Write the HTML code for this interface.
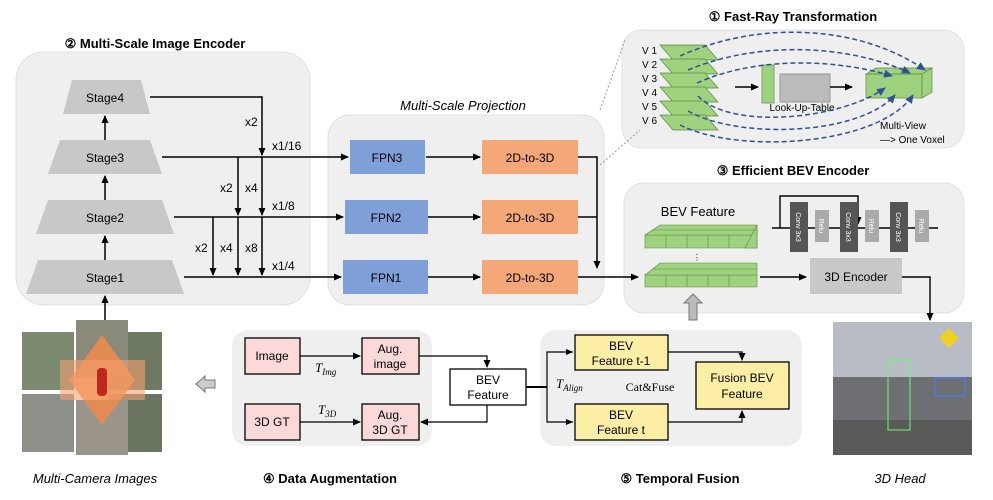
<!DOCTYPE html>
<html><head><meta charset="utf-8"><style>
body{margin:0;background:#fff;}
svg{display:block;font-family:"Liberation Sans",sans-serif;}
.b{font-weight:bold;}
</style></head><body>
<svg width="993" height="500" viewBox="0 0 993 500" xmlns="http://www.w3.org/2000/svg">
<defs>
<marker id="a" markerWidth="8" markerHeight="8" refX="7" refY="4" orient="auto" markerUnits="userSpaceOnUse"><path d="M0,0.5 L8,4 L0,7.5z" fill="#000"/></marker>
<marker id="d" markerWidth="10" markerHeight="10" refX="8" refY="5" orient="auto" markerUnits="userSpaceOnUse"><path d="M0,1 L9,5 L0,9z" fill="#2f4f9a"/></marker>
</defs>
<rect x="16" y="52" width="294" height="253" rx="28" fill="#efefef" stroke="#e0e0e0"/>
<rect x="328" y="115" width="276" height="190" rx="22" fill="#efefef" stroke="#e0e0e0"/>
<rect x="622" y="30" width="342" height="118" rx="20" fill="#efefef" stroke="#e0e0e0"/>
<rect x="624" y="183" width="340" height="130" rx="20" fill="#efefef" stroke="#e0e0e0"/>
<rect x="232" y="330" width="200" height="116" rx="16" fill="#efefef"/>
<rect x="540" y="330" width="262" height="116" rx="16" fill="#efefef"/>

<text x="155" y="48" text-anchor="middle" font-size="13" class="b">② Multi-Scale Image Encoder</text>
<text x="463" y="110" text-anchor="middle" font-size="13" font-style="italic">Multi-Scale Projection</text>
<text x="793" y="21" text-anchor="middle" font-size="13" class="b">① Fast-Ray Transformation</text>
<text x="793" y="175" text-anchor="middle" font-size="13" class="b">③ Efficient BEV  Encoder</text>
<text x="95" y="483" text-anchor="middle" font-size="13" font-style="italic">Multi-Camera Images</text>
<text x="330" y="483" text-anchor="middle" font-size="13" class="b">④ Data Augmentation</text>
<text x="680" y="483" text-anchor="middle" font-size="13" class="b">⑤ Temporal Fusion</text>
<text x="900" y="483" text-anchor="middle" font-size="13" font-style="italic">3D Head</text>

<g fill="#c8c8c8" font-size="12" text-anchor="middle">
<polygon points="72,80 141,80 150,114 63,114"/>
<polygon points="60,140 150,140 162,174 48,174"/>
<polygon points="48,200 162,200 174,234 36,234"/>
<polygon points="38,260 172,260 184,294 26,294"/>
<text x="105" y="102" fill="#000">Stage4</text>
<text x="105" y="162" fill="#000">Stage3</text>
<text x="105" y="222" fill="#000">Stage2</text>
<text x="105" y="282" fill="#000">Stage1</text>
</g>
<g stroke="#000" stroke-width="1.5" fill="none">
<line x1="105" y1="140" x2="105" y2="116" marker-end="url(#a)"/>
<line x1="105" y1="200" x2="105" y2="176" marker-end="url(#a)"/>
<line x1="105" y1="260" x2="105" y2="236" marker-end="url(#a)"/>
<line x1="105" y1="320" x2="105" y2="296" marker-end="url(#a)"/>
<polyline points="150,97 262,97 262,155" marker-end="url(#a)"/>
<line x1="262" y1="157" x2="262" y2="215" marker-end="url(#a)"/>
<line x1="262" y1="217" x2="262" y2="275" marker-end="url(#a)"/>
<line x1="238" y1="157" x2="238" y2="215" marker-end="url(#a)"/>
<line x1="238" y1="217" x2="238" y2="275" marker-end="url(#a)"/>
<line x1="213" y1="217" x2="213" y2="275" marker-end="url(#a)"/>
<line x1="162" y1="157" x2="348" y2="157" marker-end="url(#a)"/>
<line x1="174" y1="217" x2="343" y2="217" marker-end="url(#a)"/>
<line x1="184" y1="277" x2="341" y2="277" marker-end="url(#a)"/>
<line x1="426" y1="157" x2="480" y2="157" marker-end="url(#a)"/>
<line x1="428" y1="217" x2="480" y2="217" marker-end="url(#a)"/>
<line x1="428" y1="277" x2="480" y2="277" marker-end="url(#a)"/>
<polyline points="578,157 597,157 597,268" marker-end="url(#a)"/>
<line x1="578" y1="217" x2="597" y2="217"/>
<line x1="578" y1="277" x2="638" y2="277" marker-end="url(#a)"/>
</g>
<g font-size="12">
<text x="245" y="126">x2</text><text x="272" y="150">x1/16</text>
<text x="220" y="192">x2</text><text x="245" y="192">x4</text><text x="272" y="210">x1/8</text>
<text x="195" y="252">x2</text><text x="220" y="252">x4</text><text x="245" y="252">x8</text><text x="272" y="270">x1/4</text>
</g>
<g font-size="12" text-anchor="middle">
<rect x="350" y="140" width="75" height="34" fill="#7f9fd9"/><text x="387" y="162">FPN3</text>
<rect x="345" y="200" width="83" height="34" fill="#7f9fd9"/><text x="386" y="222">FPN2</text>
<rect x="343" y="260" width="85" height="34" fill="#7f9fd9"/><text x="386" y="282">FPN1</text>
<rect x="482" y="140" width="96" height="34" fill="#f4a878"/><text x="530" y="162">2D-to-3D</text>
<rect x="482" y="200" width="96" height="34" fill="#f4a878"/><text x="530" y="222">2D-to-3D</text>
<rect x="482" y="260" width="96" height="34" fill="#f4a878"/><text x="530" y="282">2D-to-3D</text>
</g>
<line x1="600" y1="165" x2="640" y2="130" stroke="#999" stroke-dasharray="2,2"/>
<line x1="600" y1="110" x2="625" y2="40" stroke="#999" stroke-dasharray="2,2"/>

<g font-size="10">
<text x="642" y="54">V 1</text><text x="642" y="68">V 2</text><text x="642" y="82">V 3</text>
<text x="642" y="96">V 4</text><text x="642" y="110">V 5</text><text x="642" y="124">V 6</text>
</g>
<g fill="#9fd27f" stroke="#5a8a3a" stroke-width="0.7">
<polygon points="660,45 705,45 718,60 673,60"/>
<polygon points="660,59 705,59 718,74 673,74"/>
<polygon points="660,73 705,73 718,88 673,88"/>
<polygon points="660,87 705,87 718,102 673,102"/>
<polygon points="660,101 705,101 718,116 673,116"/>
<polygon points="660,115 705,115 718,130 673,130"/>
<rect x="762" y="65" width="12" height="38"/>
<rect x="866" y="74" width="56" height="24"/>
<polygon points="866,74 876,68 932,68 922,74"/>
<polygon points="922,74 932,68 932,92 922,98"/>
</g>
<rect x="780" y="74" width="50" height="28" fill="#bbb" stroke="#999"/>
<line x1="735" y1="87" x2="758" y2="87" stroke="#000" stroke-width="1.5" marker-end="url(#a)"/>
<line x1="830" y1="87" x2="852" y2="87" stroke="#000" stroke-width="1.5" marker-end="url(#a)"/>
<text x="802" y="111" text-anchor="middle" font-size="10">Look-Up-Table</text>
<text x="880" y="129" font-size="10">Multi-View</text>
<text x="880" y="143" font-size="10">—&gt;  One Voxel</text>
<g stroke="#2f4f9a" stroke-width="1.5" stroke-dasharray="5,3" fill="none">
<path d="M680,56 C760,20 860,25 925,70" marker-end="url(#d)"/>
<path d="M688,70 C760,40 850,45 910,73" marker-end="url(#d)"/>
<path d="M697,83 C760,55 840,60 892,76" marker-end="url(#d)"/>
<path d="M698,96 C730,130 840,120 885,88" marker-end="url(#d)"/>
<path d="M688,111 C740,140 860,135 895,95" marker-end="url(#d)"/>
<path d="M680,125 C740,155 880,145 913,95" marker-end="url(#d)"/>
</g>
<text x="698" y="216" text-anchor="middle" font-size="13">BEV Feature</text>
<g fill="#9fd27f" stroke="#5a8a3a" stroke-width="0.6">
<polygon points="645,235 757,235 757,248 645,248"/><polygon points="645,235 660,225 757,225 757,235"/><polygon points="757,225 757,248 745,248"/>
<polygon points="645,275 757,275 757,287 645,287"/><polygon points="645,275 660,263 757,263 757,275"/>
<path d="M666,235V248M687,235V248M708,235V248M729,235V248M666,275V287M687,275V287M708,275V287M729,275V287M652,230H757M652,269H757" fill="none"/>
</g>
<text x="693" y="260" font-size="8">⋮</text>
<rect x="810" y="258" width="92" height="36" fill="#c8c8c8"/>
<text x="856" y="281" text-anchor="middle" font-size="12">3D Encoder</text>
<g stroke="#000" stroke-width="1.4" fill="none">
<line x1="760" y1="277" x2="806" y2="277" marker-end="url(#a)"/>
<polyline points="902,277 930,277 930,320" marker-end="url(#a)"/>
<polyline points="780,228 780,196 858,196 858,224" marker-end="url(#a)"/>
<line x1="772" y1="228" x2="938" y2="228"/>
</g>
<g font-size="7" fill="#fff" text-anchor="middle">
<rect x="790" y="202" width="18" height="50" fill="#555"/>
<rect x="815" y="210" width="14" height="32" fill="#aaa"/>
<rect x="840" y="202" width="18" height="50" fill="#555"/>
<rect x="865" y="210" width="14" height="32" fill="#aaa"/>
<rect x="890" y="202" width="18" height="50" fill="#555"/>
<rect x="915" y="210" width="14" height="32" fill="#aaa"/>
<text transform="translate(796,227) rotate(90)">Conv 3x3</text>
<text transform="translate(819,226) rotate(90)">Relu</text>
<text transform="translate(846,227) rotate(90)">Conv 3x3</text>
<text transform="translate(869,226) rotate(90)">Relu</text>
<text transform="translate(896,227) rotate(90)">Conv 3x3</text>
<text transform="translate(919,226) rotate(90)">Relu</text>
</g>
<polygon points="689,320 689,303 684,303 693,294 702,303 697,303 697,320" fill="#bbb" stroke="#777"/>
<polygon points="215,380 205,380 205,376 196,384 205,392 205,388 215,388" fill="#ccc" stroke="#777"/>
<g font-size="12" text-anchor="middle" stroke-width="1.3">
<rect x="245" y="338" width="55" height="36" fill="#fbd9d9" stroke="#000"/><text x="272" y="360">Image</text>
<rect x="362" y="338" width="57" height="36" fill="#fbd9d9" stroke="#000"/><text x="390" y="353">Aug.</text><text x="390" y="368">image</text>
<rect x="245" y="404" width="55" height="36" fill="#fbd9d9" stroke="#000"/><text x="272" y="426">3D GT</text>
<rect x="362" y="404" width="57" height="36" fill="#fbd9d9" stroke="#000"/><text x="390" y="419">Aug.</text><text x="390" y="434">3D GT</text>
<rect x="450" y="369" width="76" height="36" fill="#fff" stroke="#000"/><text x="488" y="384">BEV</text><text x="488" y="399">Feature</text>
<rect x="575" y="335" width="93" height="35" fill="#fdeea6" stroke="#000"/><text x="621" y="350">BEV</text><text x="621" y="365">Feature t-1</text>
<rect x="575" y="404" width="93" height="36" fill="#fdeea6" stroke="#000"/><text x="621" y="419">BEV</text><text x="621" y="434">Feature t</text>
<rect x="696" y="362" width="93" height="47" fill="#fdeea6" stroke="#000"/><text x="742" y="382">Fusion BEV</text><text x="742" y="398">Feature</text>
</g>
<g font-family="Liberation Serif,serif" font-style="italic" font-size="13">
<text x="315" y="372">T<tspan font-size="9" dy="3">Img</tspan></text>
<text x="318" y="414">T<tspan font-size="9" dy="3">3D</tspan></text>
<text x="556" y="388">T<tspan font-size="9" dy="3">Align</tspan></text>
</g>
<text x="650" y="391" font-size="12" font-family="Liberation Serif,serif" text-anchor="middle">Cat&amp;Fuse</text>
<g stroke="#000" stroke-width="1.2" fill="none">
<line x1="300" y1="356" x2="360" y2="356" marker-end="url(#a)"/>
<line x1="300" y1="422" x2="360" y2="422" marker-end="url(#a)"/>
<polyline points="419,356 487,356 487,367" marker-end="url(#a)"/>
<polyline points="487,405 487,422 421,422" marker-end="url(#a)"/>
<line x1="526" y1="387" x2="547" y2="387" stroke-width="2"/>
<polyline points="573,352 547,352 547,422 573,422" />
<polyline points="668,352 742,352 742,360" marker-end="url(#a)"/>
<polyline points="668,422 742,422 742,411" marker-end="url(#a)"/>
</g>
<polygon points="573,352 566,349 566,355" /><polygon points="573,422 566,419 566,425"/>
<g>
<rect x="22" y="332" width="52" height="58" fill="#7c8a70"/>
<rect x="108" y="332" width="54" height="58" fill="#6e7a62"/>
<rect x="22" y="394" width="52" height="58" fill="#8c9088"/>
<rect x="108" y="394" width="54" height="58" fill="#6a7562"/>
<rect x="76" y="320" width="52" height="58" fill="#8a8a7a"/>
<rect x="76" y="400" width="52" height="55" fill="#9a948a"/>
<polygon points="102,335 135,380 102,425 69,380" fill="#f08a4a" opacity="0.85"/>
<polygon points="60,360 145,360 145,400 60,400" fill="#f4a070" opacity="0.6"/>
<rect x="97" y="368" width="10" height="28" rx="4" fill="#c0281e"/>
</g>
<rect x="833" y="322" width="139" height="133" fill="#6d6f72"/>
<rect x="833" y="322" width="139" height="55" fill="#b8bcc4"/>
<rect x="833" y="420" width="139" height="35" fill="#5a5a58"/>
<rect x="888" y="360" width="22" height="70" fill="none" stroke="#6f6" stroke-width="1"/>
<rect x="935" y="378" width="30" height="18" fill="none" stroke="#4a7af0" stroke-width="1.2"/>
<rect x="942" y="331" width="14" height="14" fill="#f0d020" transform="rotate(45 949 338)"/>
</svg>
</body></html>
